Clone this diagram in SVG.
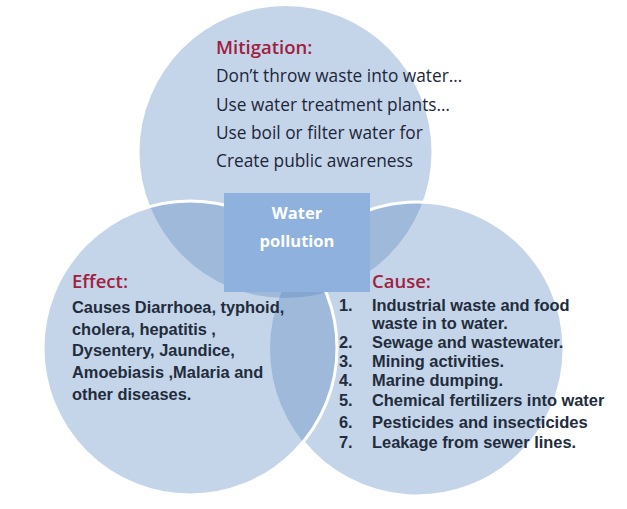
<svg xmlns="http://www.w3.org/2000/svg" width="627" height="509" viewBox="0 0 627 509">
<style>
.circ{fill:#4F81BD;fill-opacity:0.33;stroke:none}
.ring{fill:none;stroke:#ffffff;stroke-width:3}
.head{font-family:"Open Sans","Liberation Sans",sans-serif;font-size:18.5px;font-weight:600;fill:#a0203f}
.mit{font-family:"Open Sans","Liberation Sans",sans-serif;font-size:17.3px;font-weight:500;fill:#1c263a}
.body{font-family:"Liberation Sans",Arial,sans-serif;font-size:16.4px;font-weight:bold;fill:#222c3c}
.ctr{font-family:"Open Sans","Liberation Sans",sans-serif;font-size:16.5px;font-weight:bold;fill:#ffffff;text-anchor:middle}
</style>
<rect width="627" height="509" fill="#ffffff"/>
<g id="shapes">
<circle class="circ" cx="285.5" cy="152" r="146"/>
<circle class="circ" cx="417" cy="349" r="147"/>
<circle class="circ" cx="190" cy="348" r="147"/>
<circle class="ring" cx="190" cy="348" r="147"/>
<path class="ring" d="M303.5 255.6 A147 147 0 1 1 303.5 442.4"/>
</g>
<g id="connectors"></g>
<g id="node-mitigation">
<text class="head" x="216" y="54">Mitigation:</text>
<text class="mit" x="216" y="82">Don’t throw waste into water…</text>
<text class="mit" x="216" y="111">Use water treatment plants…</text>
<text class="mit" x="216" y="139">Use boil or filter water for</text>
<text class="mit" x="216" y="167">Create public awareness</text>
</g>
<g id="node-effect">
<text class="head" x="72" y="288">Effect:</text>
<text class="body" x="72" y="313">Causes Diarrhoea, typhoid,</text>
<text class="body" x="72" y="335">cholera, hepatitis ,</text>
<text class="body" x="72" y="356">Dysentery, Jaundice,</text>
<text class="body" x="72" y="378">Amoebiasis ,Malaria and</text>
<text class="body" x="72" y="400">other diseases.</text>
</g>
<g id="node-cause">
<text class="head" x="372" y="288">Cause:</text>
<text class="body" x="339" y="311">1.</text><text class="body" x="372" y="311">Industrial waste and food</text>
<text class="body" x="372" y="329">waste in to water.</text>
<text class="body" x="339" y="348">2.</text><text class="body" x="372" y="348">Sewage and wastewater.</text>
<text class="body" x="339" y="367">3.</text><text class="body" x="372" y="367">Mining activities.</text>
<text class="body" x="339" y="386">4.</text><text class="body" x="372" y="386">Marine dumping.</text>
<text class="body" x="339" y="406">5.</text><text class="body" x="372" y="406">Chemical fertilizers into water</text>
<text class="body" x="339" y="428">6.</text><text class="body" x="372" y="428" style="font-size:16.6px">Pesticides and insecticides</text>
<text class="body" x="339" y="448">7.</text><text class="body" x="372" y="448">Leakage from sewer lines.</text>
</g>
<g id="node-center">
<rect x="224" y="193" width="146" height="99" fill="#8fb1de"/>
<text class="ctr" x="297" y="219">Water</text>
<text class="ctr" x="297" y="247">pollution</text>
</g>
</svg>
